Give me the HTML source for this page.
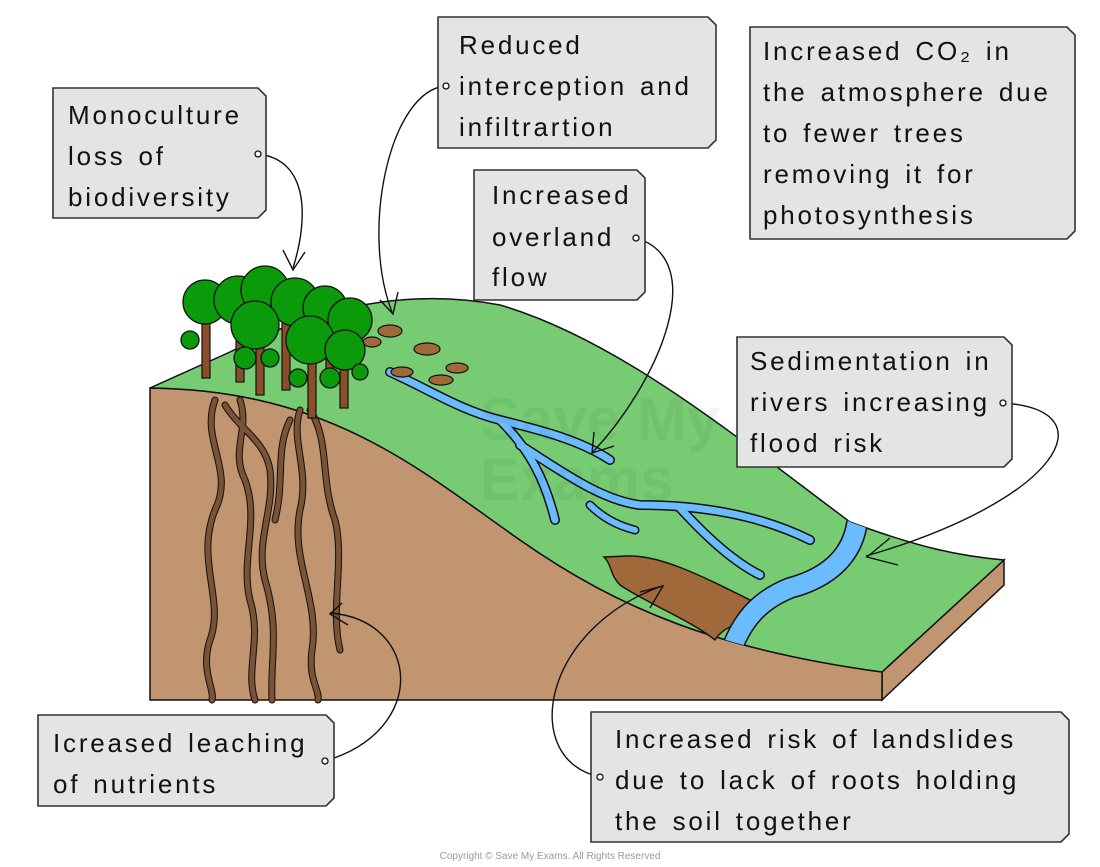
<!DOCTYPE html>
<html><head><meta charset="utf-8"><style>
html,body{margin:0;padding:0;background:#fff;}
svg{display:block;}
.t{font-family:"Liberation Sans",sans-serif;font-size:26px;letter-spacing:2.8px;word-spacing:3px;fill:#111;}
.box{fill:#e4e4e4;stroke:#333;stroke-width:1.6;}
.ln{fill:none;stroke:#111;stroke-width:1.4;}
.dot{fill:#fff;stroke:#111;stroke-width:1.3;}
.riv{fill:none;stroke:#111;stroke-linecap:round;stroke-linejoin:round;}
.rivb{fill:none;stroke:#6bbcff;stroke-linecap:round;stroke-linejoin:round;}
.root{fill:none;stroke:#111;stroke-width:7;stroke-linecap:round;}
.rootb{fill:none;stroke:#7a5235;stroke-width:5;stroke-linecap:round;}
.leaf{fill:#0a9a0a;stroke:#111;stroke-width:1.3;}
.trunk{fill:#8a4f2a;stroke:#111;stroke-width:1.2;}
</style></head><body>
<svg width="1100" height="867" viewBox="0 0 1100 867" xmlns="http://www.w3.org/2000/svg">
<defs><clipPath id="top"><path d="M150,388 L230,352 C330,300 420,290 500,305 C620,340 740,440 850,522 C920,548 960,556 1004,560 L882,672 C720,650 620,610 520,540 C420,470 330,390 150,388 Z"/></clipPath></defs>
<!-- terrain -->
<path d="M882,672 L1004,560 L1004,585 L882,700 Z" fill="#c09570" stroke="#111" stroke-width="1.5"/>
<path d="M150,388 C330,390 420,470 520,540 C620,610 720,650 882,672 L882,700 L150,700 Z" fill="#c09570" stroke="#111" stroke-width="1.5"/>
<path d="M150,388 L230,352 C330,300 420,290 500,305 C620,340 740,440 850,522 C920,548 960,556 1004,560 L882,672 C720,650 620,610 520,540 C420,470 330,390 150,388 Z" fill="#77cb72" stroke="#111" stroke-width="1.5"/>
<!-- roots -->
<g>
<path class="root" d="M215,400 C200,440 235,470 215,510 C195,560 225,600 210,640 C200,670 215,690 212,700"/>
<path class="root" d="M240,400 C250,430 230,450 245,480 C260,520 240,560 250,600 C262,640 245,670 255,700"/>
<path class="root" d="M225,405 C240,430 265,440 270,470 C275,510 255,540 265,580 C280,630 270,660 272,700"/>
<path class="root" d="M300,410 C290,440 310,470 300,510 C290,560 320,600 312,650 C308,680 320,690 318,700"/>
<path class="root" d="M310,410 C330,440 320,480 335,520 C345,560 330,610 340,650"/>
<path class="root" d="M290,420 C275,450 285,480 275,520"/>
<path class="rootb" d="M215,400 C200,440 235,470 215,510 C195,560 225,600 210,640 C200,670 215,690 212,700"/>
<path class="rootb" d="M240,400 C250,430 230,450 245,480 C260,520 240,560 250,600 C262,640 245,670 255,700"/>
<path class="rootb" d="M225,405 C240,430 265,440 270,470 C275,510 255,540 265,580 C280,630 270,660 272,700"/>
<path class="rootb" d="M300,410 C290,440 310,470 300,510 C290,560 320,600 312,650 C308,680 320,690 318,700"/>
<path class="rootb" d="M310,410 C330,440 320,480 335,520 C345,560 330,610 340,650"/>
<path class="rootb" d="M290,420 C275,450 285,480 275,520"/>
</g>
<!-- landslide -->
<path d="M604,557 L628,556 C660,555 700,575 750,600 L735,625 C720,630 715,640 715,640 C690,620 650,605 620,585 C610,575 612,565 604,557 Z" fill="#a0693a" stroke="#111" stroke-width="1.4"/>
<!-- river -->
<g clip-path="url(#top)">
<path class="riv" stroke-width="10" d="M390,372 C430,390 460,410 500,420 C540,430 580,440 610,460"/>
<path class="riv" stroke-width="10" d="M500,420 C530,450 545,480 555,520"/>
<path class="riv" stroke-width="10" d="M520,445 C560,470 600,500 640,505 C700,505 760,515 810,540"/>
<path class="riv" stroke-width="10" d="M680,508 C700,530 730,560 760,575"/>
<path class="riv" stroke-width="9" d="M590,505 C600,515 615,525 635,530"/>
<path class="riv" stroke-width="22" d="M858,505 C860,560 820,580 790,588 C760,600 740,620 728,660"/>
<path class="riv" stroke-width="9" d="M850,540 C840,560 820,575 800,580"/>
<path class="rivb" stroke-width="7" d="M390,372 C430,390 460,410 500,420 C540,430 580,440 610,460"/>
<path class="rivb" stroke-width="7" d="M500,420 C530,450 545,480 555,520"/>
<path class="rivb" stroke-width="7" d="M520,445 C560,470 600,500 640,505 C700,505 760,515 810,540"/>
<path class="rivb" stroke-width="7" d="M680,508 C700,530 730,560 760,575"/>
<path class="rivb" stroke-width="6" d="M590,505 C600,515 615,525 635,530"/>
<path class="rivb" stroke-width="19" d="M858,505 C860,560 820,580 790,588 C760,600 740,620 728,660"/>
<path class="rivb" stroke-width="6" d="M850,540 C840,560 820,575 800,580"/>
</g>
<!-- stumps -->
<g fill="#a0693a" stroke="#111" stroke-width="1.2">
<ellipse cx="390" cy="331" rx="12" ry="6"/><ellipse cx="427" cy="349" rx="13" ry="6"/>
<ellipse cx="457" cy="368" rx="11" ry="5"/><ellipse cx="441" cy="380" rx="12" ry="5"/>
<ellipse cx="402" cy="372" rx="11" ry="5"/><ellipse cx="372" cy="342" rx="9" ry="5"/>
</g>
<!-- trees -->
<g>
<rect class="trunk" x="202" y="320" width="8" height="58"/>
<rect class="trunk" x="236" y="320" width="8" height="62"/>
<rect class="trunk" x="256" y="320" width="8" height="75"/>
<rect class="trunk" x="282" y="320" width="8" height="70"/>
<rect class="trunk" x="308" y="340" width="8" height="78"/>
<rect class="trunk" x="340" y="340" width="8" height="68"/>
<rect class="trunk" x="326" y="330" width="7" height="55"/>
<circle class="leaf" cx="205" cy="302" r="22"/>
<circle class="leaf" cx="238" cy="300" r="24"/>
<circle class="leaf" cx="265" cy="290" r="24"/>
<circle class="leaf" cx="295" cy="302" r="24"/>
<circle class="leaf" cx="325" cy="308" r="22"/>
<circle class="leaf" cx="350" cy="320" r="22"/>
<circle class="leaf" cx="255" cy="325" r="24"/>
<circle class="leaf" cx="310" cy="340" r="24"/>
<circle class="leaf" cx="345" cy="350" r="20"/>
<circle class="leaf" cx="190" cy="340" r="9"/>
<circle class="leaf" cx="245" cy="358" r="11"/>
<circle class="leaf" cx="270" cy="358" r="9"/>
<circle class="leaf" cx="298" cy="378" r="9"/>
<circle class="leaf" cx="330" cy="378" r="10"/>
<circle class="leaf" cx="360" cy="372" r="8"/>
</g>
<!-- watermark -->
<text x="480" y="440" font-family="Liberation Sans,sans-serif" font-size="60" font-weight="bold" fill="#000" opacity="0.04">Save My</text>
<text x="480" y="500" font-family="Liberation Sans,sans-serif" font-size="60" font-weight="bold" fill="#000" opacity="0.04">Exams</text>
<!-- connectors -->
<path class="ln" d="M258,154 C310,160 308,220 293,268"/><path class="ln" d="M283,250 L293,270 L305,252"/>
<path class="ln" d="M446,86 C390,90 360,230 392,312"/><path class="ln" d="M380,300 L393,314 L398,292"/>
<path class="ln" d="M636,238 C710,260 660,380 593,452"/><path class="ln" d="M594,432 L592,453 L614,446"/>
<path class="ln" d="M1003,403 C1110,410 1060,500 866,556"/><path class="ln" d="M890,538 L867,557 L898,565"/>
<path class="ln" d="M600,777 C520,760 540,630 662,586"/><path class="ln" d="M640,592 L663,586 L650,608"/>
<path class="ln" d="M325,761 C430,730 420,620 330,613"/><path class="ln" d="M342,603 L330,614 L348,625"/>
<!-- boxes -->
<path class="box" d="M53,88 L258,88 L266,96 L266,210 L258,218 L53,218 Z"/>
<path class="box" d="M438,17 L708,17 L716,25 L716,140 L708,148 L438,148 Z"/>
<path class="box" d="M750,27 L1067,27 L1075,35 L1075,231 L1067,239 L750,239 Z"/>
<path class="box" d="M474,170 L637,170 L645,178 L645,292 L637,300 L474,300 Z"/>
<path class="box" d="M737,337 L1004,337 L1012,345 L1012,459 L1004,467 L737,467 Z"/>
<path class="box" d="M38,715 L326,715 L334,723 L334,798 L326,806 L38,806 Z"/>
<path class="box" d="M591,712 L1061,712 L1069,720 L1069,834 L1061,842 L591,842 Z"/>
<circle class="dot" cx="258" cy="154" r="3"/>
<circle class="dot" cx="446" cy="86" r="3"/>
<circle class="dot" cx="636" cy="238" r="3"/>
<circle class="dot" cx="1003" cy="403" r="3"/>
<circle class="dot" cx="325" cy="761" r="3"/>
<circle class="dot" cx="600" cy="777" r="3"/>
<!-- text -->
<text class="t" x="68" y="124">Monoculture</text>
<text class="t" x="68" y="165">loss of</text>
<text class="t" x="68" y="206">biodiversity</text>
<text class="t" x="459" y="54">Reduced</text>
<text class="t" x="459" y="95">interception and</text>
<text class="t" x="459" y="136">infiltrartion</text>
<text class="t" x="763" y="60">Increased CO₂ in</text>
<text class="t" x="763" y="101">the atmosphere due</text>
<text class="t" x="763" y="142">to fewer trees</text>
<text class="t" x="763" y="183">removing it for</text>
<text class="t" x="763" y="224">photosynthesis</text>
<text class="t" x="492" y="204">Increased</text>
<text class="t" x="492" y="246">overland</text>
<text class="t" x="492" y="286">flow</text>
<text class="t" x="750" y="370">Sedimentation in</text>
<text class="t" x="750" y="411">rivers increasing</text>
<text class="t" x="750" y="452">flood risk</text>
<text class="t" x="53" y="752">Icreased leaching</text>
<text class="t" x="53" y="793">of nutrients</text>
<text class="t" x="615" y="748">Increased risk of landslides</text>
<text class="t" x="615" y="789">due to lack of roots holding</text>
<text class="t" x="615" y="830">the soil together</text>
<text x="550" y="859" text-anchor="middle" font-family="Liberation Sans,sans-serif" font-size="10" fill="#999">Copyright © Save My Exams. All Rights Reserved</text>
</svg>
</body></html>
